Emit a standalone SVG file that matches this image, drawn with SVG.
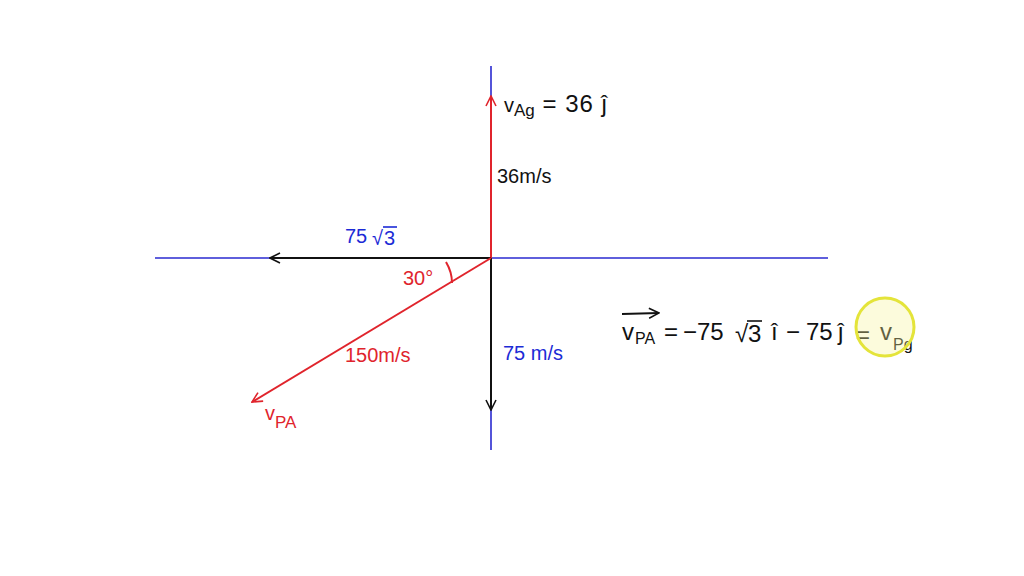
<svg xmlns="http://www.w3.org/2000/svg" width="1024" height="576" viewBox="0 0 1024 576">
<defs>
<marker id="ahBlack" viewBox="0 0 12 12" refX="11" refY="6" markerWidth="12" markerHeight="12" markerUnits="userSpaceOnUse" orient="auto"><path d="M1,1 L11,6 L1,11" fill="none" stroke="#111" stroke-width="1.6"/></marker>
<marker id="ahRed" viewBox="0 0 12 12" refX="11" refY="6" markerWidth="12" markerHeight="12" markerUnits="userSpaceOnUse" orient="auto"><path d="M1,1 L11,6 L1,11" fill="none" stroke="#e0242c" stroke-width="1.6"/></marker>
</defs>
<style>
text{font-family:"Liberation Sans","DejaVu Sans",sans-serif;font-size:20px}
.blk{fill:#111}
.red{fill:#e0242c}
.blu{fill:#1c2bd6}
.axis{stroke:#2a2ad0;stroke-width:1.6;fill:none}
.vb{stroke:#111;stroke-width:2;fill:none}
.vr{stroke:#e0242c;stroke-width:2;fill:none}
.eq{font-size:24px}
.sub{font-size:16px}
</style>
<rect width="1024" height="576" fill="#fff"/>
<g id="axes">
<line class="axis" x1="491" y1="66" x2="491" y2="450"/>
<line class="axis" x1="155" y1="258" x2="828" y2="258"/>
</g>
<g id="connectors">
<line class="vr" x1="491" y1="258" x2="491" y2="96" marker-end="url(#ahRed)"/>
<line class="vb" x1="491" y1="258" x2="270" y2="258" marker-end="url(#ahBlack)"/>
<line class="vb" x1="491" y1="258" x2="491" y2="410" marker-end="url(#ahBlack)"/>
<line class="vr" x1="491" y1="258" x2="252" y2="402" marker-end="url(#ahRed)"/>
<path class="vr" d="M446,262 Q452,272 452,283"/>
</g>
<g id="label-vag">
<text class="blk" x="504" y="112" font-size="24">v<tspan font-size="17" dy="4">Ag</tspan><tspan font-size="24" dy="-4" letter-spacing="1"> = 36 ĵ</tspan></text>
</g>
<g id="label-36">
<text class="blk" x="497" y="183" font-size="18">36m/s</text>
</g>
<g id="label-75r3">
<text class="blu" x="345" y="243" font-size="20">75</text>
<text class="blu" x="372" y="245" font-size="20">√</text>
<text class="blu" x="384" y="245" font-size="20">3</text>
<line x1="383" y1="227" x2="397" y2="227" stroke="#1c2bd6" stroke-width="1.6"/>
</g>
<g id="label-30">
<text class="red" x="403" y="285" font-size="17">30°</text>
</g>
<g id="label-150">
<text class="red" x="345" y="362" font-size="18">150m/s</text>
</g>
<g id="label-75">
<text class="blu" x="503" y="360" font-size="20">75 m/s</text>
</g>
<g id="label-vpa">
<text class="red" x="265" y="420" font-size="22">v<tspan font-size="17" dy="8">PA</tspan></text>
</g>
<g id="equation">
<text class="blk eq" x="622" y="340">v</text>
<text class="blk sub" x="635" y="344">PA</text>
<line x1="622" y1="314" x2="659" y2="313" stroke="#111" stroke-width="1.8" marker-end="url(#ahBlack)"/>
<text class="blk eq" x="664" y="340">=</text>
<text class="blk eq" x="683" y="340">−75</text>
<text class="blk eq" x="735" y="342">√</text>
<text class="blk eq" x="748" y="342">3</text>
<line x1="747" y1="321" x2="762" y2="321" stroke="#111" stroke-width="1.6"/>
<text class="blk eq" x="771" y="340">î</text>
<text class="blk eq" x="786" y="340">−</text>
<text class="blk eq" x="806" y="340">75</text>
<text class="blk eq" x="838" y="340">ĵ</text>
<text class="blk eq" x="856" y="343">=</text>
<text class="blk eq" x="880" y="340">v</text>
<text class="blk sub" x="893" y="350">Pg</text>
<circle cx="885" cy="327" r="29" fill="#f6f49a" fill-opacity="0.35" stroke="#e4e43a" stroke-width="3"/>
</g>
</svg>
